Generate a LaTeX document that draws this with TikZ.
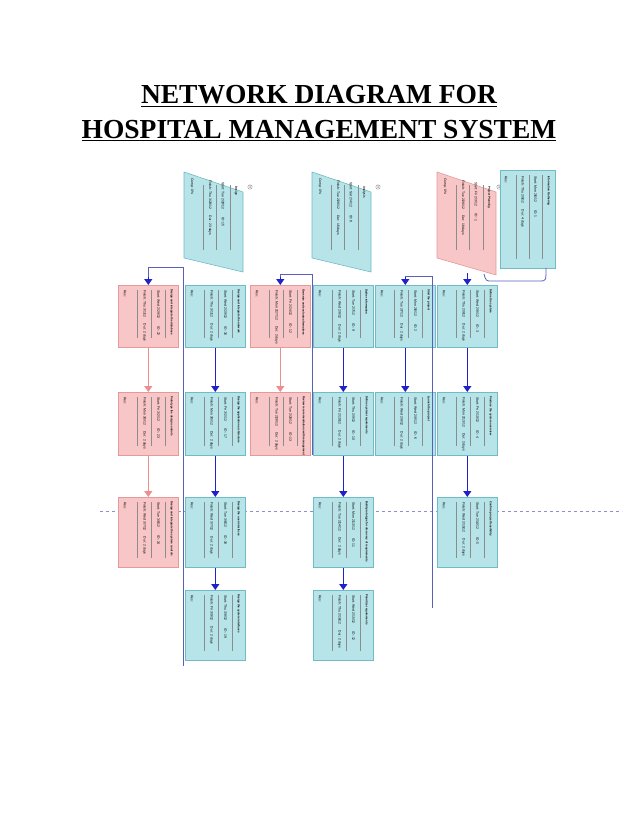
\documentclass[tikz,border=0pt]{standalone}
\usepackage{fontspec}
\setmainfont{Liberation Serif}
\newfontfamily\boxfont{Liberation Sans}
\usetikzlibrary{arrows.meta,calc}
\definecolor{bfill}{HTML}{B7E4E8}
\definecolor{bline}{HTML}{6FBCC6}
\definecolor{pfill}{HTML}{F8C6C6}
\definecolor{pline}{HTML}{E49A9A}
\definecolor{arrb}{HTML}{1E22C8}
\definecolor{arrp}{HTML}{EC8E8E}
\definecolor{conn}{HTML}{5B5FB8}
\tikzset{
 bbox/.style={draw=bline,fill=bfill,line width=0.6pt,minimum width=60pt,anchor=north west,inner sep=0pt},
 pbox/.style={draw=pline,fill=pfill,line width=0.6pt,minimum width=60pt,anchor=north west,inner sep=0pt},
 vt/.style={rotate=-90,anchor=west,inner sep=0pt,font=\boxfont\fontsize{3.4}{4}\selectfont},
 vtb/.style={vt,font=\boxfont\bfseries\fontsize{2.8}{4}\selectfont},
 ab/.style={draw=arrb,line width=1.2pt,-{Triangle[width=8pt,length=6pt]}},
 ap/.style={draw=arrp,line width=1.2pt,-{Triangle[width=8pt,length=6pt]}},
 cn/.style={draw=conn,line width=0.8pt},
 dv/.style={draw=black!45,line width=0.3pt}
}
\newcommand\tbox[9]{%
 \node[#2,minimum height=#5pt] (#1) at (#3,#4) {};
 \node[vtb] at ($(#1.north east)+(-7,4)$) {#6};
 \draw[dv] ($(#1.north east)+(-13,5)$) -- ($(#1.south east)+(-13,-10)$);
 \node[vt] at ($(#1.north east)+(-20,5)$) {Start: #7\hspace{8pt}ID: #8};
 \draw[dv] ($(#1.north east)+(-27,5)$) -- ($(#1.south east)+(-27,-10)$);
 \node[vt] at ($(#1.north east)+(-34,5)$) {Finish: #9\hspace{6pt}Dur: 2 days};
 \draw[dv] ($(#1.north east)+(-41,5)$) -- ($(#1.south east)+(-41,-10)$);
 \node[vt] at ($(#1.north west)+(7,5)$) {Res:};
}
\begin{document}
\begin{tikzpicture}[x=1pt,y=-1pt]
\useasboundingbox (0,0) rectangle (638,826);
\node[font=\bfseries\fontsize{27.5}{30}\selectfont] (t1) at (319,96) {\underline{NETWORK DIAGRAM FOR}};
\node[font=\bfseries\fontsize{27.5}{30}\selectfont] (t2) at (319,131) {\underline{HOSPITAL MANAGEMENT SYSTEM}};
\coordinate (dl) at (100,511); \coordinate (dr) at (622,511);
\draw[dashed,draw=conn!70,line width=0.5pt] (dl) -- (dr);
\draw[draw=bline,fill=bfill,line width=0.6pt] (184,172) -- (243,192) -- (243,272) -- (184,258) -- cycle;
\node[vtb] (s1) at (236,186) {Design};
\node[vt] at (223,182) {Start: Tue 2/28/12\hspace{8pt}ID: 15};
\node[vt] at (210,180) {Finish: Thu 3/29/12\hspace{6pt}Dur: 23 days};
\node[vt] at (192,178) {Comp: 0\%};
\foreach \xx in {230,216,203} \draw[dv] (\xx,185) -- (\xx,250);
\node[font=\fontsize{4}{4}\selectfont,draw=black!40,circle,inner sep=0.4pt] (m1) at (250,187) {1};
\draw[draw=bline,fill=bfill,line width=0.6pt] (312,172) -- (371,192) -- (371,272) -- (312,258) -- cycle;
\node[vtb] (s2) at (364,186) {Analysis};
\node[vt] at (351,182) {Start: Sat 2/4/12\hspace{8pt}ID: 8};
\node[vt] at (338,180) {Finish: Tue 2/28/12\hspace{6pt}Dur: 16 days};
\node[vt] at (320,178) {Comp: 0\%};
\foreach \xx in {358,344,331} \draw[dv] (\xx,185) -- (\xx,250);
\node[font=\fontsize{4}{4}\selectfont,draw=black!40,circle,inner sep=0.4pt] (m2) at (378,187) {1};
\draw[draw=pline,fill=pfill,line width=0.6pt] (437,172) -- (496,192) -- (496,275) -- (437,258) -- cycle;
\node[vtb] (s3) at (489,186) {Project Planning};
\node[vt] at (476,182) {Start: Fri 2/3/12\hspace{8pt}ID: 1};
\node[vt] at (463,180) {Finish: Tue 2/28/12\hspace{6pt}Dur: 18 days};
\node[vt] at (445,178) {Comp: 0\%};
\foreach \xx in {483,469,456} \draw[dv] (\xx,185) -- (\xx,250);
\node[font=\fontsize{4}{4}\selectfont,draw=black!40,circle,inner sep=0.4pt] (m3) at (499,187) {1};
\node[bbox,minimum width=55pt,minimum height=98pt] (ig) at (500,170) {};
\node[vtb] at ($(ig.north east)+(-7,6)$) {Information Gathering};
\node[vt] at ($(ig.north east)+(-20,6)$) {Start: Mon 2/6/12\hspace{8pt}ID: 1};
\node[vt] at ($(ig.north east)+(-33,6)$) {Finish: Thu 2/9/12\hspace{6pt}Dur: 4 days};
\node[vt] at ($(ig.north west)+(6,6)$) {Res:};
\foreach \dx in {13,26,39} \draw[dv] ($(ig.north east)+(-\dx,5)$) -- ($(ig.south east)+(-\dx,-10)$);
\tbox{a1}{pbox}{118}{285}{62}{Design and integrate the database}{Wed 2/29/12}{22}{Thu 3/1/12}
\tbox{b1}{bbox}{185}{285}{62}{Design and integrate the network}{Wed 2/29/12}{16}{Thu 3/1/12}
\tbox{c1}{pbox}{250}{285}{62}{Generate and evaluate alternatives}{Fri 2/24/12}{12}{Mon 2/27/12}
\tbox{d1}{bbox}{313}{285}{62}{Gather information}{Tue 2/7/12}{9}{Wed 2/8/12}
\tbox{e1}{bbox}{375}{285}{62}{Start the project}{Mon 2/6/12}{2}{Tue 2/7/12}
\tbox{f1}{bbox}{437}{285}{62}{Define the system}{Wed 2/8/12}{3}{Thu 2/9/12}
\tbox{a2}{pbox}{118}{392}{63}{Prototype the design controls}{Fri 3/2/12}{23}{Mon 3/5/12}
\tbox{b2}{bbox}{185}{392}{63}{Design the application architecture}{Fri 3/2/12}{17}{Mon 3/5/12}
\tbox{c2}{pbox}{250}{392}{63}{Review recommendations with management}{Tue 2/28/12}{13}{Tue 2/28/12}
\tbox{d2}{bbox}{313}{392}{63}{Define system requirements}{Thu 2/9/12}{10}{Fri 2/10/12}
\tbox{e2}{bbox}{375}{392}{63}{Launch the project}{Wed 2/8/12}{6}{Wed 2/8/12}
\tbox{f2}{bbox}{437}{392}{63}{Produce the system overview}{Fri 2/10/12}{4}{Mon 2/13/12}
\tbox{a3}{pbox}{118}{497}{70}{Design and integrate the system controls}{Tue 3/6/12}{24}{Wed 3/7/12}
\tbox{b3}{bbox}{185}{497}{70}{Design the user interfaces}{Tue 3/6/12}{18}{Wed 3/7/12}
\tbox{d3}{bbox}{313}{497}{70}{Build prototype for discovery of requirements}{Mon 2/13/12}{11}{Tue 2/14/12}
\tbox{f3}{bbox}{437}{497}{70}{Confirm project feasibility}{Tue 2/14/12}{5}{Wed 2/15/12}
\tbox{b4}{bbox}{185}{590}{70}{Design the system interfaces}{Thu 3/8/12}{19}{Fri 3/9/12}
\tbox{d4}{bbox}{313}{590}{70}{Prioritize requirements}{Wed 2/15/12}{12}{Thu 2/16/12}
\draw[ap] (a1.south) -- (a2.north);
\draw[ab] (b1.south) -- (b2.north);
\draw[ap] (c1.south) -- (c2.north);
\draw[ab] (d1.south) -- (d2.north);
\draw[ab] (e1.south) -- (e2.north);
\draw[ab] (f1.south) -- (f2.north);
\draw[ap] (a2.south) -- (a3.north);
\draw[ab] (b2.south) -- (b3.north);
\draw[ab] (d2.south) -- (d3.north);
\draw[ab] (f2.south) -- (f3.north);
\draw[ab] (b3.south) -- (b4.north);
\draw[ab] (d3.south) -- (d4.north);
\draw[cn] ($(b4.south west)+(-2,5)$) coordinate (k1) -- ++(0,-398) -| ($(a1.north)+(0,-7)$);
\draw[ab] ($(a1.north)+(0,-8)$) -- (a1.north);
\draw[cn] ($(c2.south east)+(2,-1)$) coordinate (k2) -- ++(0,-180) -| ($(c1.north)+(0,-8)$);
\draw[ab] ($(c1.north)+(0,-8)$) -- (c1.north);
\draw[cn] ($(f3.south west)+(-5,40)$) coordinate (k3) -- ++(0,-331) -| ($(e1.north)+(0,-8)$);
\draw[ab] ($(e1.north)+(0,-8)$) -- (e1.north);
\draw[ab] ($(f1.north)+(0,-12)$) -- (f1.north);
\draw[cn] (484,274) .. controls (486,281) .. (492,281) -- (540,281) .. controls (546,281) .. (546,268);
\end{tikzpicture}
\end{document}
